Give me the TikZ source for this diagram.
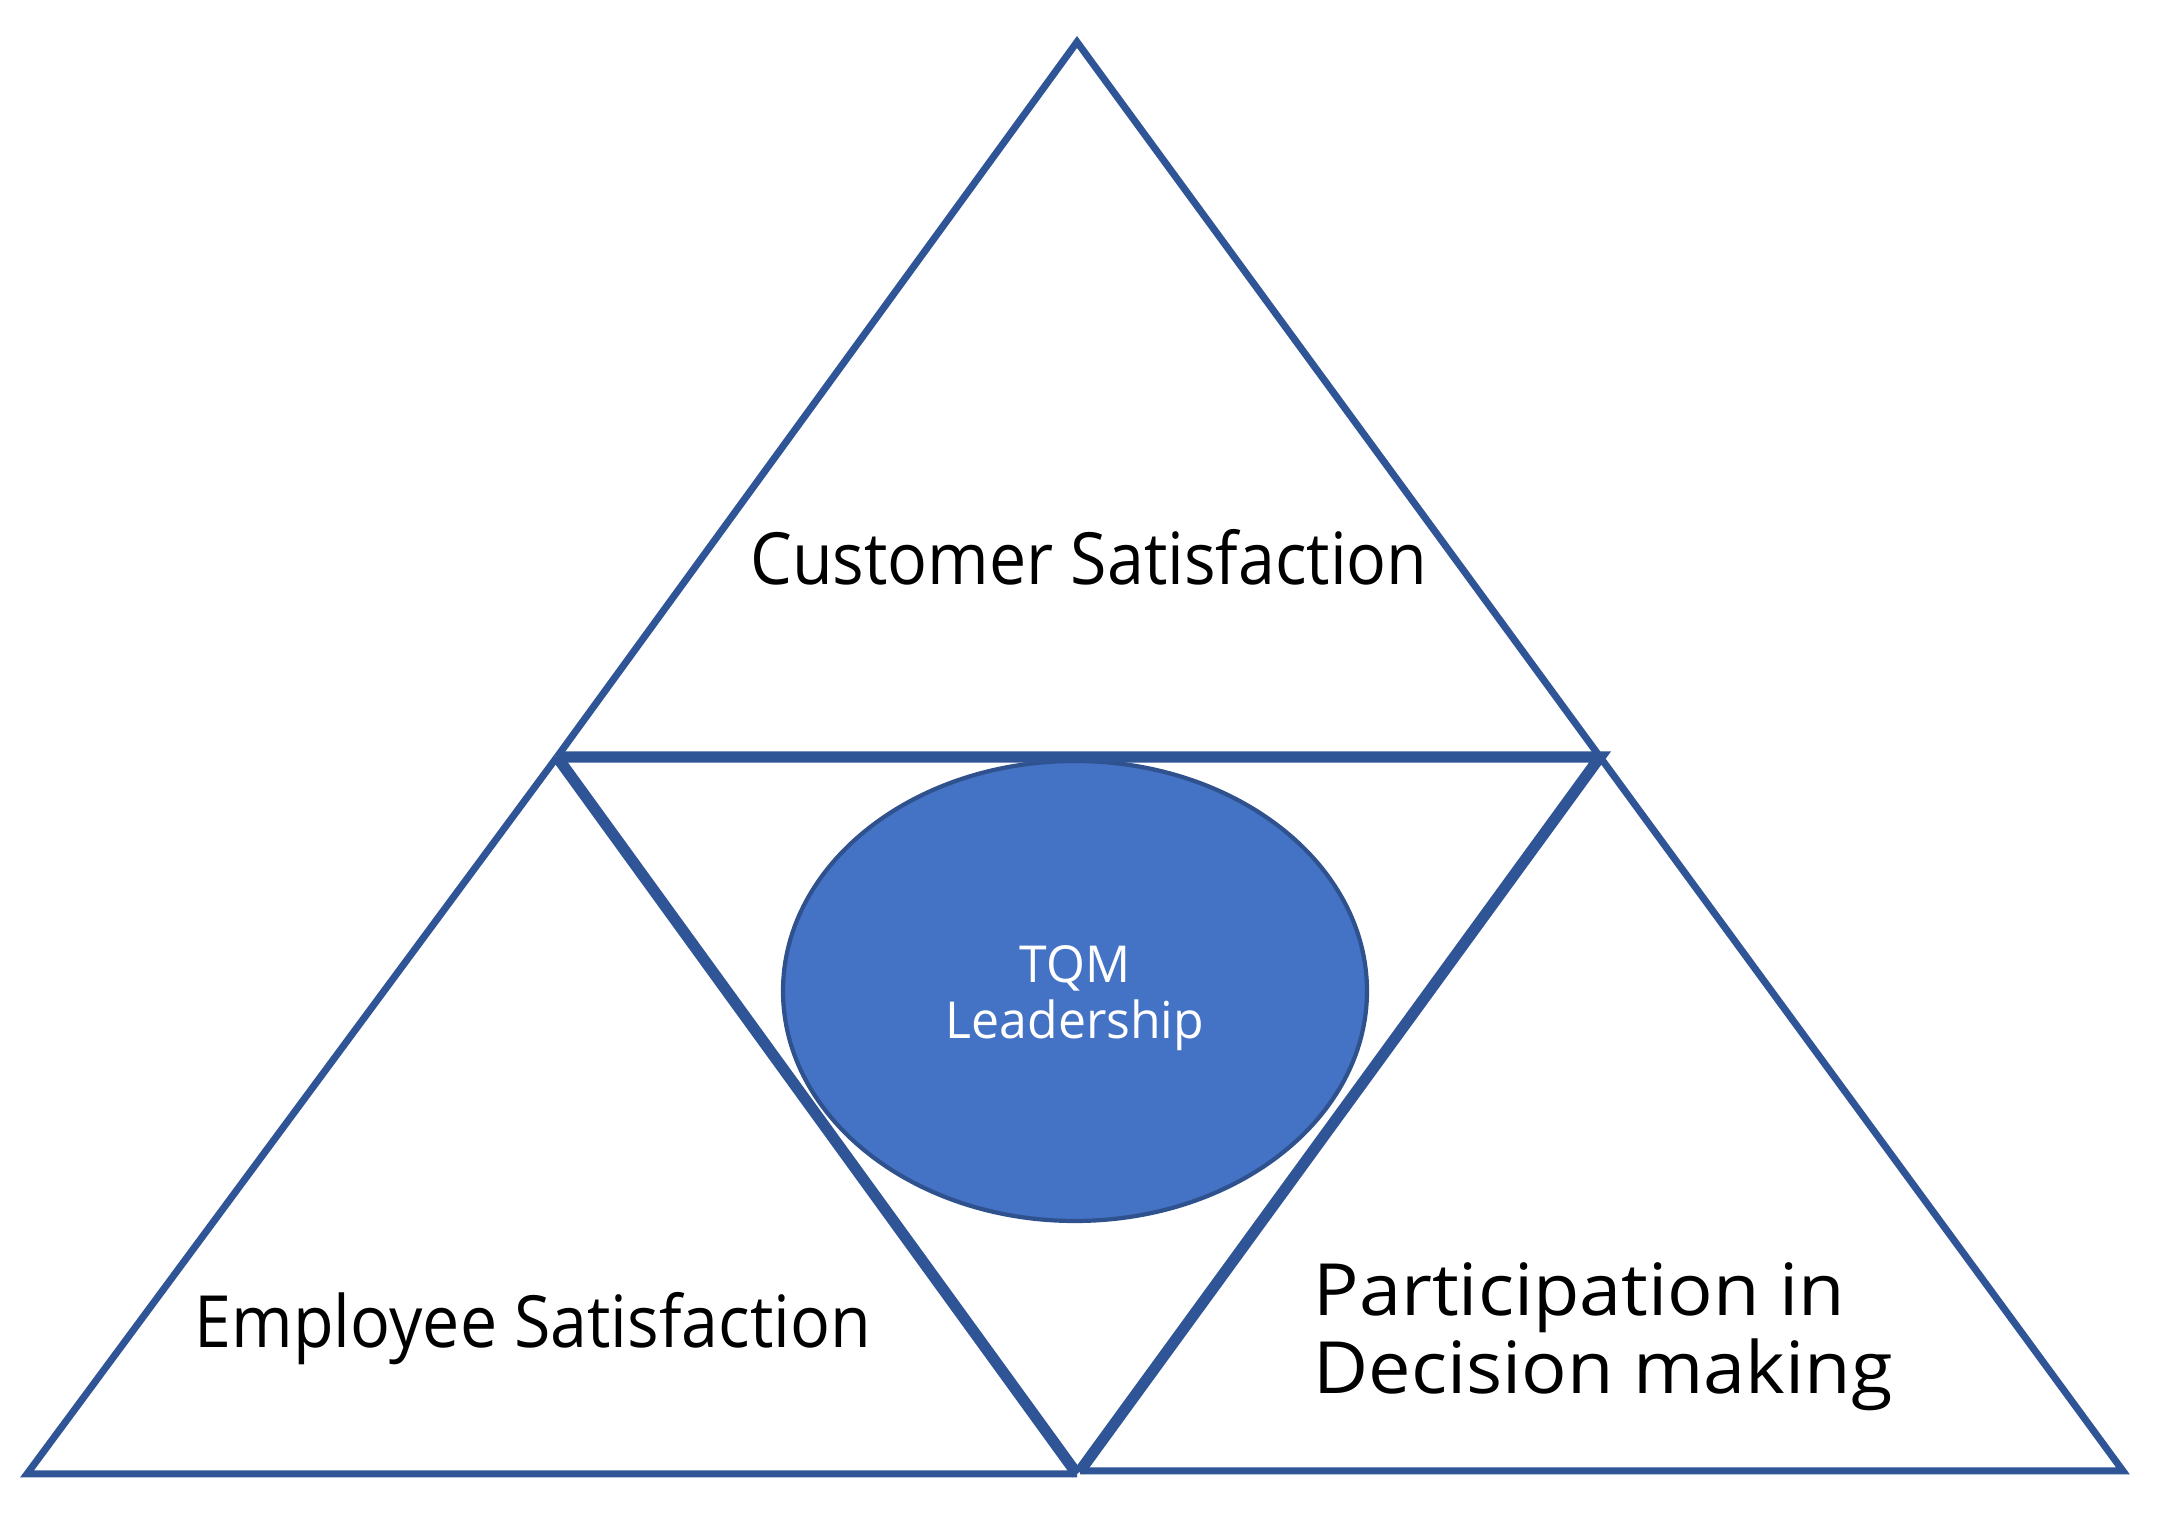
\documentclass[tikz,border=0pt]{standalone}
\usepackage{fontspec}
\setmainfont{Open Sans}
\newfontfamily\labelfont[FakeStretch=0.92]{Open Sans}
\newfontfamily\widefont[FakeStretch=1.05]{Open Sans}
\newfontfamily\corefont[FakeStretch=0.98]{Open Sans}
\usetikzlibrary{shapes.geometric}

\definecolor{edgeblue}{RGB}{47,85,151}
\definecolor{coreblue}{RGB}{68,114,196}
\definecolor{coreline}{RGB}{47,82,143}

\tikzset{
  outerline/.style={draw=edgeblue, line width=2pt, line join=miter},
  innerline/.style={draw=edgeblue, line width=3.2pt, line join=miter},
  label/.style={font=\labelfont\fontsize{20.5}{22.4}\selectfont, text=black, inner sep=0pt},
  core/.style={ellipse, fill=coreblue, draw=coreline, line width=1.2pt,
    minimum width=5.84cm, minimum height=4.60cm},
  coretext/.style={text=white, align=center, inner sep=0pt,
    font=\corefont\fontsize{14.5}{16}\selectfont}
}

\begin{document}
\begin{tikzpicture}
			\useasboundingbox (0,0) rectangle (21.61,15.22);
			% Triangle corners
			\def\midy{7.65}
			\def\boty{0.48}

			\coordinate (apex) at (10.77, 14.80);
			\coordinate (midL) at (5.57, \midy);
			\coordinate (midR) at (16.00, \midy);
			\coordinate (botL) at (0.27, \boty);
			\coordinate (botM) at (10.77, \boty);
			\coordinate (botMR) at (10.80, 0.51);
			\coordinate (botR) at (21.23, 0.51);

			% Centre
			\node[core] (tqm) at (10.75, 5.31) {};
			\node[coretext] (tqmtext) at ([yshift=-0.7mm]tqm.center) {TQM\\Leadership};

			% Outer triangles
			\draw[outerline] (midL) -- (apex) -- (midR);
			\draw[outerline] (midL) -- (botL) -- (botM);
			\draw[outerline] (midR) -- (botR) -- (botMR);
			% Inner triangle
			\draw[innerline] (midL) -- (midR) -- (botMR);
			\draw[innerline] (midL) -- (botM);

			\node[label, anchor=base] (customer) at (10.89, 9.37) {Customer Satisfaction};
			\node[label, anchor=base] (employee) at (5.33, 1.74) {Employee Satisfaction};
			\node[label, font=\widefont\fontsize{20.5}{22.4}\selectfont, anchor=base west, align=left] (decision) at (13.13, 1.28) {Participation in\\Decision making};
		\end{tikzpicture}
\end{document}
